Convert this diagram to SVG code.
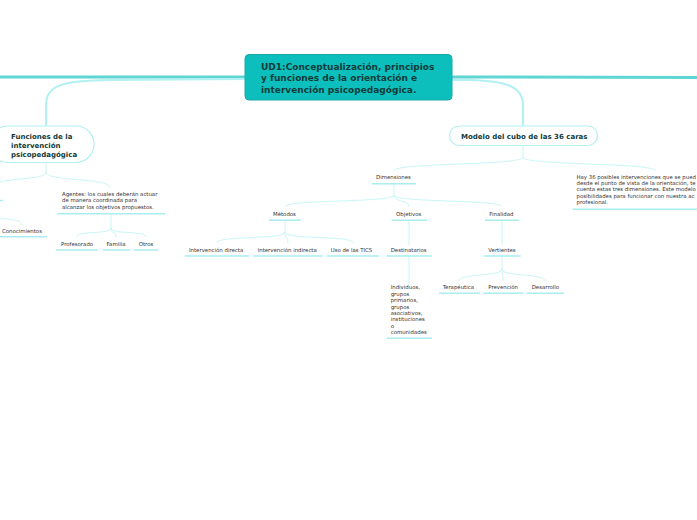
<svg xmlns="http://www.w3.org/2000/svg" width="697" height="520" viewBox="0 0 697 520">
<style>
.main{fill:none;stroke:#5fd6d3;stroke-width:3;stroke-linecap:round}
.br{fill:none;stroke:#b3f0f1;stroke-width:2}
.c{fill:none;stroke:#c9f6f6;stroke-width:1}
.ul{fill:none;stroke:#a9edef;stroke-width:1.5}
.t{font-family:"DejaVu Sans",Verdana,sans-serif;font-size:5.4px;fill:#333}
.tb{font-family:"DejaVu Sans",Verdana,sans-serif;font-weight:bold;fill:#0f3b3a}
</style>
<rect width="697" height="520" fill="#fff"/>
<g id="connectors">
<path class="main" d="M-5,77 L245,77"/>
<path class="main" d="M452,77 L702,77.5"/>
<path class="br" d="M245,79 L110,80 C60,80.5 46,86 46,105 L46,126"/>
<path class="br" d="M452,80 L470,80 C505,81 523,86 523,105 L523,126"/>
<path class="c" d="M46,162 L46,172 C46,181 -4,177 -6,186"/>
<path class="c" d="M46,172 C46,182 110,177 110,188"/>
<path class="c" d="M-12,212 C-12,222 22,216 22,225"/>
<path class="c" d="M111,214 L111,228 C111,235 77,230 77,237"/>
<path class="c" d="M111,228 C111,235 116,230 116,237"/>
<path class="c" d="M111,228 C111,235 146,230 146,237"/>
<path class="c" d="M523,146 L523,157 C523,166 394,162 394,171"/>
<path class="c" d="M523,157 C523,166 655,162 655,171"/>
<path class="c" d="M394,184 L394,195 C394,203 285,199 285,207"/>
<path class="c" d="M394,195 C394,203 409,199 409,207"/>
<path class="c" d="M394,195 C394,203 502,199 502,207"/>
<path class="c" d="M285,220 L285,232 C285,240 217,235 217,243"/>
<path class="c" d="M285,232 C285,240 288,235 288,243"/>
<path class="c" d="M285,232 C285,240 353,235 353,243"/>
<path class="c" d="M409,220 L409,245"/>
<path class="c" d="M409,256 L409,283"/>
<path class="c" d="M502,220 L502,245"/>
<path class="c" d="M502,256 L502,269 C502,277 459,273 459,281"/>
<path class="c" d="M502,269 C502,277 503,273 503,281"/>
<path class="c" d="M502,269 C502,277 545,273 545,281"/>
</g>
<g id="root">
<rect x="245" y="54.5" width="207" height="45.5" rx="4" fill="#0cbfbc" stroke="#1aa9a7" stroke-width="1"/>
<text class="tb" font-size="9" x="261" y="69.5">UD1:Conceptualización, principios</text>
<text class="tb" font-size="9" x="261" y="81.2">y funciones de la orientación e</text>
<text class="tb" font-size="9" x="261" y="92.9">intervención psicopedagógica.</text>
</g>
<g id="funciones">
<rect x="-10" y="126" width="104" height="36.5" rx="18" fill="#fff" stroke="#b3f0f1" stroke-width="1.2"/>
<text class="tb" font-size="7" x="11" y="139.3">Funciones de la</text>
<text class="tb" font-size="7" x="11" y="148">intervención</text>
<text class="tb" font-size="7" x="11" y="156.8">psicopedagógica</text>
</g>
<g id="offscreen-left">
<path class="ul" d="M-5,200.5 L3,200.5"/>
</g>
<g id="conocimientos">
<text class="t" x="2" y="233">Conocimientos</text>
<path class="ul" d="M-2,236.7 L47,236.7"/>
</g>
<g id="agentes">
<text class="t" x="62" y="196">Agentes: los cuales deberán actuar</text>
<text class="t" x="62" y="202.4">de manera coordinada para</text>
<text class="t" x="62" y="208.7">alcanzar los objetivos propuestos.</text>
<path class="ul" d="M57.3,213.7 L165.3,213.7"/>
</g>
<g id="profesorado">
<text class="t" x="61" y="246">Profesorado</text>
<path class="ul" d="M56,250 L98,250"/>
</g>
<g id="familia">
<text class="t" x="106.5" y="246">Familia</text>
<path class="ul" d="M103,250 L130,250"/>
</g>
<g id="otros">
<text class="t" x="138.7" y="246">Otros</text>
<path class="ul" d="M134,250 L158,250"/>
</g>
<g id="modelo">
<rect x="449.5" y="126" width="148" height="19.5" rx="9.7" fill="#fff" stroke="#b3f0f1" stroke-width="1.2"/>
<text class="tb" font-size="7" x="461" y="139">Modelo del cubo de las 36 caras</text>
</g>
<g id="hay36">
<text class="t" x="576.5" y="178.5">Hay 36 posibles intervenciones que se pued</text>
<text class="t" x="576.5" y="184.9">desde el punto de vista de la orientación, te</text>
<text class="t" x="576.5" y="191.3">cuenta estas tres dimensiones. Este modelo</text>
<text class="t" x="576.5" y="197.7">posibilidades para funcionar con nuestra ac</text>
<text class="t" x="576.5" y="204.1">profesional.</text>
<path class="ul" d="M572.7,209.3 L700,209.3"/>
</g>
<g id="dimensiones">
<text class="t" x="376" y="178.5">Dimensiones</text>
<path class="ul" d="M371.7,183.7 L415.7,183.7"/>
</g>
<g id="metodos">
<text class="t" x="273" y="216">Métodos</text>
<path class="ul" d="M269,220.2 L300.7,220.2"/>
</g>
<g id="objetivos">
<text class="t" x="396" y="216">Objetivos</text>
<path class="ul" d="M391.7,220.2 L427.3,220.2"/>
</g>
<g id="finalidad">
<text class="t" x="489.3" y="216">Finalidad</text>
<path class="ul" d="M485,220.2 L519,220.2"/>
</g>
<g id="int-directa">
<text class="t" x="189" y="252">Intervención directa</text>
<path class="ul" d="M184.7,256 L249,256"/>
</g>
<g id="int-indirecta">
<text class="t" x="257.7" y="252">Intervención indirecta</text>
<path class="ul" d="M253.3,256 L322.7,256"/>
</g>
<g id="tics">
<text class="t" x="330.7" y="252">Uso de las TICS</text>
<path class="ul" d="M326.7,256 L379.3,256"/>
</g>
<g id="destinatarios">
<text class="t" x="390.7" y="252">Destinatarios</text>
<path class="ul" d="M386.7,256 L431.7,256"/>
</g>
<g id="individuos">
<text class="t" x="390.7" y="289.3">Individuos,</text>
<text class="t" x="390.7" y="295.7">grupos</text>
<text class="t" x="390.7" y="302.1">primarios,</text>
<text class="t" x="390.7" y="308.5">grupos</text>
<text class="t" x="390.7" y="314.9">asociativos,</text>
<text class="t" x="390.7" y="321.3">instituciones</text>
<text class="t" x="390.7" y="327.7">o</text>
<text class="t" x="390.7" y="334.1">comunidades</text>
<path class="ul" d="M386.7,338.3 L432,338.3"/>
</g>
<g id="vertientes">
<text class="t" x="488.3" y="252">Vertientes</text>
<path class="ul" d="M483.3,256 L520.7,256"/>
</g>
<g id="terapeutica">
<text class="t" x="442.7" y="289">Terapéutica</text>
<path class="ul" d="M439,293.3 L480,293.3"/>
</g>
<g id="prevencion">
<text class="t" x="488.3" y="289">Prevención</text>
<path class="ul" d="M483.3,293.3 L523.3,293.3"/>
</g>
<g id="desarrollo">
<text class="t" x="531.7" y="289">Desarrollo</text>
<path class="ul" d="M526.7,293.3 L564,293.3"/>
</g>
</svg>
